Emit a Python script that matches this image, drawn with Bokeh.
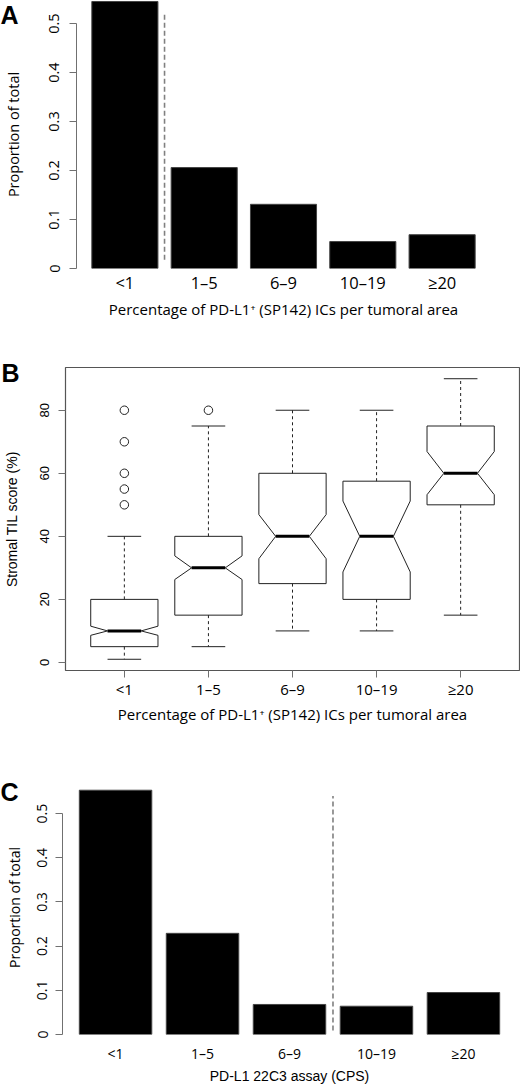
from bokeh.plotting import figure
from bokeh.models import Range1d, FixedTicker, Label, Title
from bokeh.embed import file_html
from bokeh.resources import INLINE

# ---------------- data ----------------
categories = ["<1", "1–5", "6–9", "10–19", "≥20"]
prop_sp142 = [0.545, 0.206, 0.131, 0.055, 0.069]
prop_22c3 = [0.553, 0.229, 0.068, 0.064, 0.095]

til_low_whisker = [1, 5, 10, 10, 15]
til_q1 = [5, 15, 25, 20, 50]
til_median = [10, 30, 40, 40, 60]
til_q3 = [20, 40, 60, 57.5, 75]
til_high_whisker = [40, 75, 80, 80, 90]
til_notch_lo = [8.6, 26.3, 32.9, 28.7, 53.2]
til_notch_hi = [11.5, 33.8, 46.9, 51.2, 66.9]
til_outlier_group = [0, 0, 0, 0, 0, 1]
til_outlier_value = [50, 55, 60, 70, 80, 80]

prop_ticks = [0, 0.1, 0.2, 0.3, 0.4, 0.5]
til_ticks = [0, 20, 40, 60, 80]

cutoff_after_a = 1          # dashed line after 1st category
cutoff_a_y = (0.018, 0.518)
cutoff_after_c = 3          # dashed line after 3rd category
cutoff_c_y = (0.009, 0.54)

# ---------------- layout ----------------
W = 520
HA, HB, HC = 330, 394, 360
AX = "#707070"


def base_fig(height, xr, yr, left, right, top, bottom):
    p = figure(width=W, height=height, x_range=xr, y_range=yr,
               output_backend="svg", toolbar_location=None,
               min_border_left=left, min_border_right=right,
               min_border_top=top, min_border_bottom=bottom)
    p.xgrid.visible = False
    p.ygrid.visible = False
    p.background_fill_color = "white"
    p.border_fill_color = "white"
    return p


def style_yaxis(ax, ticks, fmt, font, size, title, tfont, tsize, standoff, tstandoff):
    ax.ticker = FixedTicker(ticks=ticks)
    ax.major_label_overrides = {t: fmt(t) for t in ticks}
    ax.bounds = (ticks[0], ticks[-1])
    ax.axis_line_color = AX
    ax.major_tick_line_color = AX
    ax.major_tick_out = 7
    ax.major_tick_in = 0
    ax.minor_tick_line_color = None
    ax.major_label_orientation = "vertical"
    ax.major_label_text_font = font
    ax.major_label_text_font_size = size
    ax.major_label_text_color = "black"
    ax.major_label_standoff = standoff
    ax.axis_label = title
    ax.axis_label_text_font = tfont
    ax.axis_label_text_font_size = tsize
    ax.axis_label_text_font_style = "normal"
    ax.axis_label_text_color = "black"
    ax.axis_label_standoff = tstandoff


def style_xaxis(ax, ticks, labels, font, size, standoff, ticklines):
    ax.ticker = FixedTicker(ticks=ticks)
    ax.major_label_overrides = {t: l for t, l in zip(ticks, labels)}
    ax.axis_line_color = None
    ax.minor_tick_line_color = None
    if ticklines:
        ax.major_tick_line_color = AX
        ax.major_tick_out = 7
    else:
        ax.major_tick_line_color = None
        ax.major_tick_out = 0
    ax.major_tick_in = 0
    ax.major_label_text_font = font
    ax.major_label_text_font_size = size
    ax.major_label_text_color = "black"
    ax.major_label_standoff = standoff


def x_title(p, text, font, size, offset):
    p.add_layout(Title(text=text, align="center", offset=offset, standoff=0,
                       text_font=font, text_font_size=size, text_font_style="normal",
                       text_color="black"), "below")


def panel_letter(p, text, side, x, y):
    p.add_layout(Label(x=x, y=y, x_units="screen", y_units="screen", text=text,
                       text_font="Liberation Sans", text_font_style="bold",
                       text_font_size="25px", text_baseline="top", text_align="left",
                       text_color="black"), side)


def prop_fmt(t):
    return "0" if t == 0 else f"{t:g}"


bar_x = [0.7 + 1.2 * i for i in range(len(categories))]

# ---------------- Panel A ----------------
pa = base_fig(HA, Range1d(-0.032, 6.232), Range1d(0, 0.547),
              left=75, right=30, top=0, bottom=62)
pa.outline_line_color = None
pa.vbar(x=bar_x, top=prop_sp142, width=1.0, fill_color="black", line_color="#444444", line_width=1)
xa = bar_x[cutoff_after_a - 1] + 0.6
pa.segment(x0=[xa], y0=[cutoff_a_y[0]], x1=[xa], y1=[cutoff_a_y[1]],
           line_color="#808080", line_width=1.6, line_dash="5 3")
style_yaxis(pa.yaxis[0], prop_ticks, prop_fmt, "Open Sans", "14.5px", "Proportion of total",
            "Open Sans", "14.5px", 10, 24)
style_xaxis(pa.xaxis[0], bar_x, categories, "Open Sans", "16.5px", 2, False)
x_title(pa, "Percentage of PD-L1⁺ (SP142) ICs per tumoral area", "Open Sans", "15px", -6)
panel_letter(pa, "A", "right", -490, 268)

# ---------------- Panel B ----------------
pb = base_fig(HB, Range1d(0.3, 5.7), Range1d(-2.56, 93.56),
              left=64, right=1, top=37, bottom=54)
pb.outline_line_color = "#555555"
pb.outline_line_width = 1.2
box_x = list(range(1, len(categories) + 1))
hw, nw, cw = 0.4, 0.2, 0.2
xs, ys = [], []
for c, q1, nlo, med, nhi, q3 in zip(box_x, til_q1, til_notch_lo, til_median, til_notch_hi, til_q3):
    xs.append([c - hw, c + hw, c + hw, c + nw, c + hw, c + hw, c - hw, c - hw, c - nw, c - hw])
    ys.append([q1, q1, nlo, med, nhi, q3, q3, nhi, med, nlo])
pb.patches(xs=xs, ys=ys, fill_color="white", line_color="#222222", line_width=1)
pb.segment(x0=box_x, y0=til_q3, x1=box_x, y1=til_high_whisker, line_color="#222222",
           line_width=1, line_dash="3 3")
pb.segment(x0=box_x, y0=til_q1, x1=box_x, y1=til_low_whisker, line_color="#222222",
           line_width=1, line_dash="3 3")
pb.segment(x0=[c - cw for c in box_x], y0=til_high_whisker, x1=[c + cw for c in box_x],
           y1=til_high_whisker, line_color="#222222", line_width=1)
pb.segment(x0=[c - cw for c in box_x], y0=til_low_whisker, x1=[c + cw for c in box_x],
           y1=til_low_whisker, line_color="#222222", line_width=1)
pb.segment(x0=[c - nw for c in box_x], y0=til_median, x1=[c + nw for c in box_x],
           y1=til_median, line_color="black", line_width=3)
pb.scatter(x=[box_x[g] for g in til_outlier_group], y=til_outlier_value, size=8.5,
           marker="circle", fill_color=None, line_color="#222222", line_width=1)
style_yaxis(pb.yaxis[0], til_ticks, lambda t: str(t), "Liberation Sans", "13px",
            "Stromal TIL score (%)", "Liberation Sans", "14px", 9, 18)
pb.yaxis[0].axis_line_color = None
style_xaxis(pb.xaxis[0], box_x, categories, "Open Sans", "15px", 1, True)
x_title(pb, "Percentage of PD-L1⁺ (SP142) ICs per tumoral area", "Open Sans", "15px", -17)
panel_letter(pb, "B", "above", -64, 9)

# ---------------- Panel C ----------------
pc = base_fig(HC, Range1d(-0.032, 6.232), Range1d(0, 0.575),
              left=62, right=4, top=56, bottom=50)
pc.outline_line_color = None
pc.vbar(x=bar_x, top=prop_22c3, width=1.0, fill_color="black", line_color="#444444", line_width=1)
xc = bar_x[cutoff_after_c - 1] + 0.6
pc.segment(x0=[xc], y0=[cutoff_c_y[0]], x1=[xc], y1=[cutoff_c_y[1]],
           line_color="#808080", line_width=1.6, line_dash="5 3")
style_yaxis(pc.yaxis[0], prop_ticks, prop_fmt, "Open Sans", "14px", "Proportion of total",
            "Open Sans", "14px", 8, 11)
style_xaxis(pc.xaxis[0], bar_x, categories, "Open Sans", "14px", 9, False)
x_title(pc, "PD-L1 22C3 assay (CPS)", "Liberation Sans", "14px", -4)
panel_letter(pc, "C", "above", -62, 3)

open("out.html", "w").write(file_html([pa, pb, pc], INLINE))
